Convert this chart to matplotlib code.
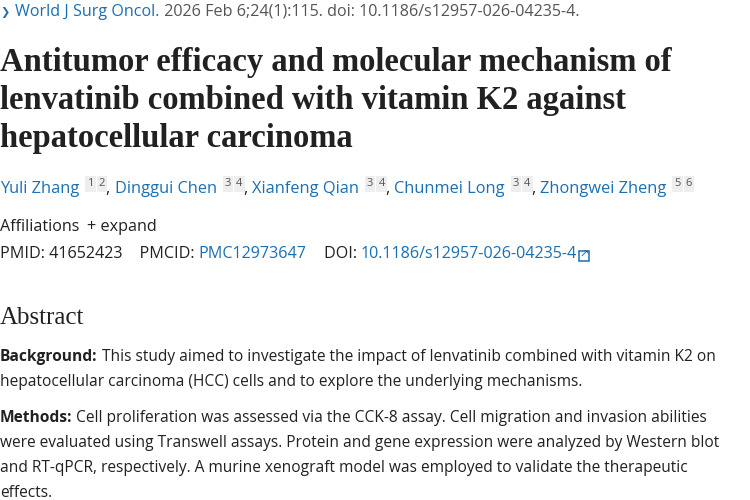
import matplotlib
matplotlib.use("Agg")
import matplotlib.pyplot as plt
from matplotlib.patches import Rectangle

BLUE = "#1a6fb5"
DARK = "#212121"
GRAY = "#555555"
SANS = ["Open Sans", "DejaVu Sans"]
SERIF = ["Liberation Serif", "DejaVu Serif"]

journal = "World J Surg Oncol."
citation = " 2026 Feb 6;24(1):115. doi: 10.1186/s12957-026-04235-4."
title_lines = ["Antitumor efficacy and molecular mechanism of",
               "lenvatinib combined with vitamin K2 against",
               "hepatocellular carcinoma"]
authors = [("Yuli Zhang", "1 2"), ("Dinggui Chen", "3 4"), ("Xianfeng Qian", "3 4"),
           ("Chunmei Long", "3 4"), ("Zhongwei Zheng", "5 6")]
pmid = "41652423"
pmcid = "PMC12973647"
doi = "10.1186/s12957-026-04235-4"
background = ["This study aimed to investigate the impact of lenvatinib combined with vitamin K2 on",
              "hepatocellular carcinoma (HCC) cells and to explore the underlying mechanisms."]
methods = ["Cell proliferation was assessed via the CCK-8 assay. Cell migration and invasion abilities",
           "were evaluated using Transwell assays. Protein and gene expression were analyzed by Western blot",
           "and RT-qPCR, respectively. A murine xenograft model was employed to validate the therapeutic",
           "effects."]

fig = plt.figure(figsize=(7.5, 5), dpi=100)
W, H = 750, 500
r = fig.canvas.get_renderer()
BODY = 11.2


def put(x, y, s, size=BODY, color=DARK, family=SANS, weight="normal", bbox=None):
    # x,y in pixels from top-left, y is the text centre; returns right edge
    t = fig.text(x / W, 1 - y / H, s, fontsize=size, color=color, family=family,
                 weight=weight, va="center", ha="left", bbox=bbox)
    bb = t.get_window_extent(r)
    return bb.x1


def runs(x, y, parts, size=BODY):
    for s, c, w in parts:
        x = put(x, y, s, size=size, color=c, weight=w)
    return x


# citation line
x = put(0, 12, "❯", size=8, color=BLUE, family=["DejaVu Sans"])
x = put(x + 6, 12, journal, color=BLUE, size=11.6)
put(x, 12, citation, color=GRAY, size=11.6)

# title
for i, line in enumerate(title_lines):
    put(0, 62 + 38 * i, line, size=23.5, family=SERIF, weight="bold")

# authors
x = 0
AU = 11.8
for i, (name, sup) in enumerate(authors):
    if i:
        x = put(x, 189, ", ", color=DARK, size=AU)
    x = put(x, 189, name, color=BLUE, size=AU)
    x += 4
    for n in sup.split():
        x = put(x + 4, 184, n, size=8, color=GRAY,
                bbox=dict(facecolor="#eeeeee", edgecolor="none", pad=1.5))
        x += 1

x = put(0, 227, "Affiliations", color=DARK, size=11.6)
put(x + 8, 227, "+ expand", color=DARK, size=11.6)

x = put(0, 254, "PMID: " + pmid + "    PMCID: ", color=DARK, size=11.6)
x = put(x, 254, pmcid, color=BLUE, size=11.6)
x = put(x, 254, "    DOI: ", color=DARK, size=11.6)
x = put(x, 254, doi, color=BLUE, size=11.6)
fig.patches.append(Rectangle(((x + 2) / W, 1 - 261 / H), 10 / W, 10 / H, transform=fig.transFigure,
                             fill=False, edgecolor=BLUE, linewidth=1.1))
put(x + 2, 255, "↗", size=8, color=BLUE, family=["DejaVu Sans"])

put(0, 318, "Abstract", size=18, family=SERIF)

runs(0, 357, [("Background:", DARK, "bold"), (" " + background[0], DARK, "normal")])
put(0, 382, background[1])
runs(0, 418, [("Methods:", DARK, "bold"), (" " + methods[0], DARK, "normal")])
for i, line in enumerate(methods[1:]):
    put(0, 443 + 25 * i, line)

fig.savefig("out.png", dpi=100, facecolor="white")
